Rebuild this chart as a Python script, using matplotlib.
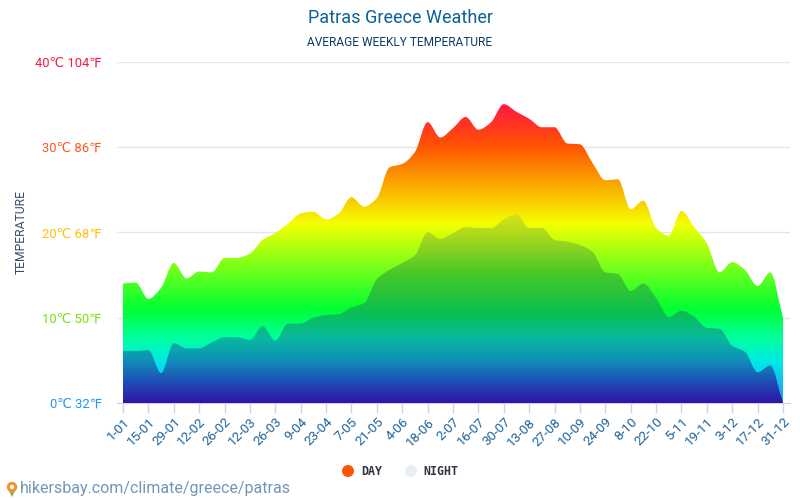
import numpy as np
import matplotlib
matplotlib.use("Agg")
import matplotlib.pyplot as plt
from matplotlib.path import Path
from matplotlib.patches import PathPatch, Circle, Polygon
from matplotlib.colors import LinearSegmentedColormap

x_labels = ["1-01", "15-01", "29-01", "12-02", "26-02", "12-03", "26-03", "9-04", "23-04",
	"7-05", "21-05", "4-06", "18-06", "2-07", "16-07", "30-07", "13-08", "27-08", "10-09",
	"24-09", "8-10", "22-10", "5-11", "19-11", "3-12", "17-12", "31-12"]

day = [14.0, 14.1, 12.2, 13.5, 16.4, 14.6, 15.4, 15.3, 17.0, 17.0, 17.5, 19.1, 19.9, 21.0,
	22.2, 22.4, 21.5, 22.2, 24.1, 23.0, 24.0, 27.6, 28.0, 29.4, 32.9, 31.1, 32.2, 33.5,
	32.0, 32.9, 35.0, 34.1, 33.3, 32.3, 32.3, 30.4, 30.3, 28.1, 26.1, 26.2, 22.7, 23.7,
	20.5, 19.6, 22.5, 20.6, 18.7, 15.3, 16.5, 15.6, 13.7, 15.3, 10.0]

night = [6.1, 6.1, 6.2, 3.5, 7.0, 6.4, 6.4, 7.1, 7.7, 7.7, 7.4, 9.0, 7.3, 9.3, 9.3, 10.0,
	10.3, 10.4, 11.2, 11.7, 14.5, 15.6, 16.4, 17.3, 20.0, 19.2, 19.9, 20.6, 20.5, 20.5,
	21.5, 22.1, 20.5, 20.5, 19.1, 18.9, 18.5, 17.7, 15.3, 15.1, 13.1, 14.0, 12.3, 10.1,
	10.8, 10.1, 8.8, 8.7, 6.7, 6.0, 3.6, 4.4, 0.0]

y_ticks = [0, 10, 20, 30, 40]
y_labels = ["0℃ 32℉", "10℃ 50℉", "20℃ 68℉", "30℃ 86℉", "40℃ 104℉"]
y_colors = ["#2196f3", "#76e010", "#ffc107", "#ff5722", "#ff1744"]

day_stops = [(0, "#2196f3"), (4.7, "#00e8e8"), (7.5, "#00ffa0"), (11, "#00ff33"), (21, "#f5ff00"),
	(30, "#ff5500"), (35, "#ff1744")]
night_stops = [(0, "#2f13a8"), (2.5, "#1f50b5"), (5, "#0f90b8"), (7.5, "#08b8a0"), (10.5, "#0abf50"),
	(15, "#45c828"), (20, "#b5da1c"), (22.5, "#e0e21a")]


def px(x, y):
	return x / 800, 1 - y / 500


def smooth_path(xs, ys):
	# monotone cubic through the weekly values, closed along the zero line
	xs = np.asarray(xs, float)
	ys = np.asarray(ys, float)
	h = np.diff(xs)
	s = np.diff(ys) / h
	t = np.zeros(len(xs))
	for i in range(1, len(xs) - 1):
		if s[i - 1] * s[i] > 0:
			t[i] = 2 * s[i - 1] * s[i] / (s[i - 1] + s[i])
	t[0] = s[0]
	t[-1] = s[-1]
	verts = [(xs[0], 0), (xs[0], ys[0])]
	codes = [Path.MOVETO, Path.LINETO]
	for i in range(len(xs) - 1):
		verts += [(xs[i] + h[i] / 3, ys[i] + t[i] * h[i] / 3),
			(xs[i + 1] - h[i] / 3, ys[i + 1] - t[i + 1] * h[i] / 3),
			(xs[i + 1], ys[i + 1])]
		codes += [Path.CURVE4] * 3
	verts += [(xs[-1], 0), (xs[0], 0)]
	codes += [Path.LINETO, Path.LINETO]
	return Path(verts, codes)


def gradient_area(ax, xs, ys, stops, z):
	top = stops[-1][0]
	cmap = LinearSegmentedColormap.from_list("g", [(v / top, c) for v, c in stops], N=512)
	patch = PathPatch(smooth_path(xs, ys), facecolor="none", edgecolor="none")
	ax.add_patch(patch)
	img = ax.imshow(np.linspace(0, 1, 512).reshape(-1, 1), cmap=cmap, origin="lower", aspect="auto",
		extent=(xs[0], xs[-1], 0, top), zorder=z, interpolation="bilinear")
	img.set_clip_path(patch)


def main():
	plt.rcParams["font.family"] = ["Roboto", "DejaVu Sans"]
	fig = plt.figure(figsize=(8, 5), dpi=100)
	# plot area: 117..790 px wide, 61.5..403 px high
	ax = fig.add_axes([117 / 800, 1 - 403 / 500, 673 / 800, 341.5 / 500])
	xs = np.arange(len(day))
	step = 660 / 52

	gradient_area(ax, xs, day, day_stops, 2)
	gradient_area(ax, xs, night, night_stops, 3)

	ax.set_xlim(-6 / step, 52 + 7 / step)
	ax.set_ylim(0, 40)
	for s in ["top", "left", "right"]:
		ax.spines[s].set_visible(False)
	ax.spines["bottom"].set_color("#ccd6eb")
	ax.set_axisbelow(True)
	ax.grid(axis="y", color="#e6e6e6", lw=1)
	ax.set_xticks(xs[::2])
	ax.set_xticklabels(x_labels, rotation=45, ha="right", rotation_mode="anchor", fontsize=9.6, color="#1f6399")
	ax.tick_params(axis="x", length=7, width=1, color="#ccd6eb", pad=2)
	ax.set_yticks(y_ticks)
	ax.set_yticklabels(y_labels, fontsize=9.4)
	ax.tick_params(axis="y", length=0, pad=11)
	for lab, c in zip(ax.get_yticklabels(), y_colors):
		lab.set_color(c)

	fig.text(*px(400, 18), "Patras Greece Weather", ha="center", va="center", fontsize=12.95, color="#0b6099")
	fig.text(*px(400, 42), "AVERAGE WEEKLY TEMPERATURE", ha="center", va="center", fontsize=8.6, color="#0b3a66")
	fig.text(*px(21.5, 232), "TEMPERATURE", ha="center", va="center", rotation=90, fontsize=8.7, color="#3a4a6b")
	fig.text(*px(361, 471.5), "DAY", ha="left", va="center", fontsize=8.4, color="#333344",
		family="DejaVu Sans Mono", weight="bold")
	fig.text(*px(423, 471.5), "NIGHT", ha="left", va="center", fontsize=8.4, color="#333344",
		family="DejaVu Sans Mono", weight="bold")
	fig.text(*px(20, 489), "hikersbay.com/climate/greece/patras", ha="left", va="center", fontsize=11.55,
		color="#6f97b8")

	# legend dots and the little map pin, in pixel coordinates
	deco = fig.add_axes([0, 0, 1, 1], facecolor="none")
	deco.set_xlim(0, 800)
	deco.set_ylim(500, 0)
	deco.axis("off")
	deco.add_patch(Circle((348, 471), 6, color="#ff5500", lw=0))
	deco.add_patch(Circle((411, 471), 6, color="#e8eef4", lw=0))
	deco.add_patch(Polygon([(8.5, 490), (15.5, 490), (12, 497)], color="#8fb050", lw=0))
	deco.add_patch(Circle((12, 487), 5.2, color="#f4922a", lw=0))
	deco.add_patch(Circle((12, 487), 2.2, color="white", lw=0))

	fig.savefig("out.png", dpi=100)


if __name__ == "__main__":
	main()
